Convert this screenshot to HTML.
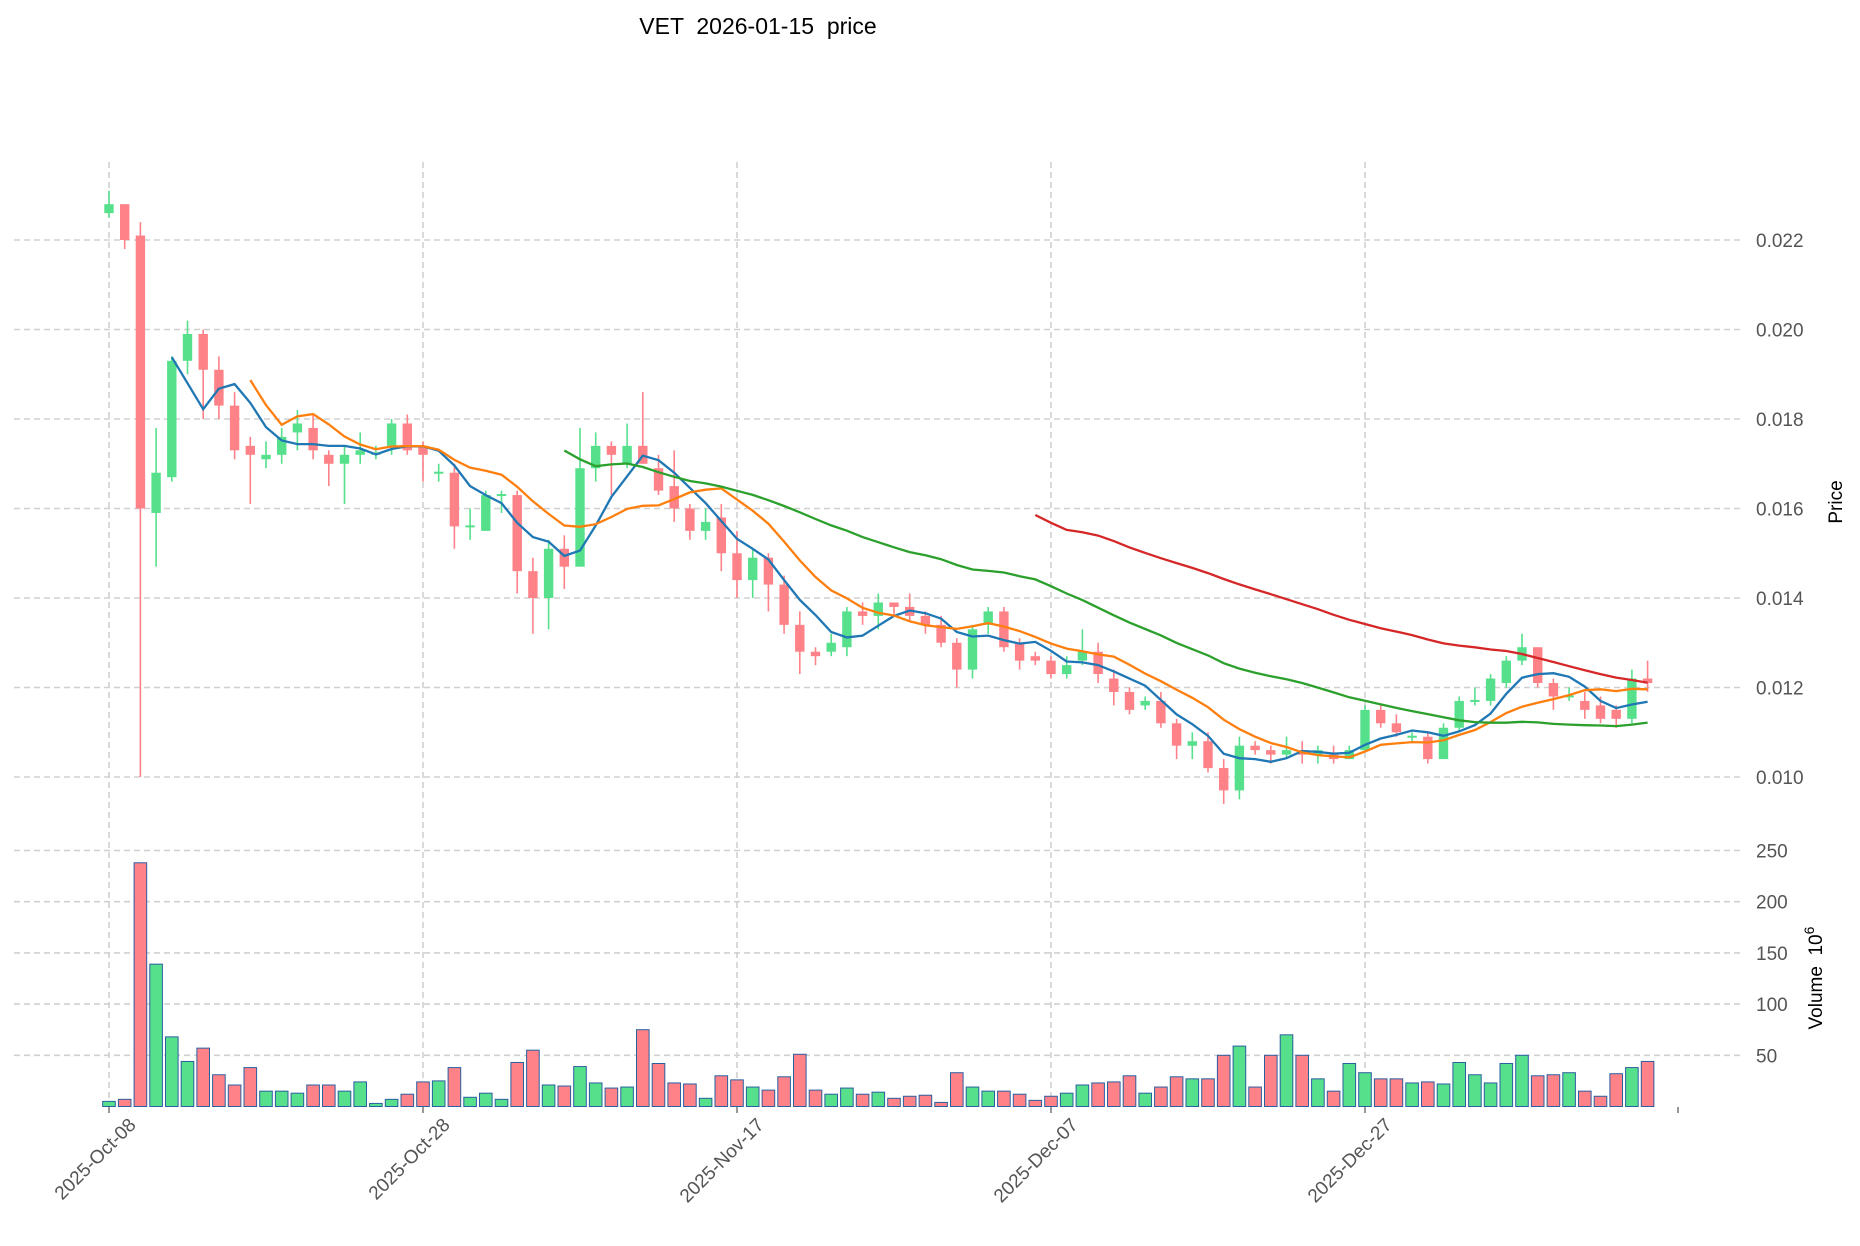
<!DOCTYPE html>
<html><head><meta charset="utf-8"><style>
html,body{margin:0;padding:0;background:#fff;}
svg{display:block;font-family:"Liberation Sans","DejaVu Sans",sans-serif;}
</style></head><body>
<svg id="c" width="1860" height="1246" xmlns="http://www.w3.org/2000/svg">
<text x="758" y="34" font-size="23" text-anchor="middle" fill="#000" style="white-space:pre">VET  2026-01-15  price</text>
<text transform="translate(1842,502) rotate(-90)" font-size="19" text-anchor="middle" fill="#000">Price</text>
<text transform="translate(1822,978) rotate(-90)" font-size="19" text-anchor="middle" fill="#000" style="white-space:pre">Volume  10<tspan dy="-8" font-size="14">6</tspan></text>
</svg>
<script>
var d=[[.0226,.0228,.0231,.0225],[.0228,.0220,.0228,.0218],[.0221,.0160,.0224,.0100],[.0159,.0168,.0178,.0147],[.0167,.0193,.0194,.0166],[.0193,.0199,.0202,.0190],[.0199,.0191,.0200,.0180],[.0191,.0183,.0194,.0180],[.0183,.0173,.0186,.0171],[.0174,.0172,.0176,.0161],[.0171,.0172,.0175,.0169],[.0172,.0176,.0178,.0170],[.0177,.0179,.0182,.0173],[.0178,.0173,.0181,.0171],[.0172,.0170,.0173,.0165],[.0170,.0172,.0174,.0161],[.0172,.0173,.0177,.0170],[.0172,.01725,.0174,.0171],[.0174,.0179,.0180,.0172],[.0179,.0173,.0181,.0172],[.0174,.0172,.0175,.0166],[.0168,.0168,.0170,.0166],[.0168,.0156,.0170,.0151],[.0156,.0156,.0160,.0153],[.0155,.0163,.0164,.0155],[.0163,.0163,.0164,.0159],[.0163,.0146,.0164,.0141],[.0146,.0140,.0149,.0132],[.0140,.0151,.0153,.0133],[.0151,.0147,.0154,.0142],[.0147,.0169,.0178,.0147],[.0169,.0174,.0177,.0166],[.0174,.0172,.0175,.0163],[.0170,.0174,.0179,.0169],[.0174,.0170,.0186,.0170],[.0169,.0164,.0172,.0163],[.0165,.0160,.0173,.0157],[.0160,.0155,.0161,.0153],[.0155,.0157,.0160,.0153],[.0158,.0150,.0161,.0146],[.0150,.0144,.0155,.0140],[.0144,.0149,.0151,.0140],[.0149,.0143,.0150,.0137],[.0143,.0134,.0145,.0132],[.0134,.0128,.0137,.0123],[.0128,.0127,.0129,.0125],[.0128,.0130,.0132,.0127],[.0129,.0137,.0138,.0127],[.0137,.0136,.0139,.0134],[.0136,.0139,.0141,.0133],[.0139,.0138,.0139,.0136],[.0138,.0136,.0141,.0135],[.0136,.0134,.0137,.0132],[.0134,.0130,.0136,.0129],[.0130,.0124,.0131,.0120],[.0124,.0133,.0134,.0122],[.0134,.0137,.0138,.0132],[.0137,.0129,.0138,.0128],[.0130,.0126,.0131,.0124],[.0127,.0126,.0128,.0125],[.0126,.0123,.0127,.0122],[.0123,.0125,.0127,.0122],[.0126,.0128,.0133,.0125],[.0128,.0123,.0130,.0121],[.0122,.0119,.0124,.0116],[.0119,.0115,.0120,.0114],[.0116,.0117,.0118,.0115],[.0117,.0112,.0119,.0111],[.0112,.0107,.0113,.0104],[.0107,.0108,.0110,.0104],[.0108,.0102,.0110,.0101],[.0102,.0097,.0104,.0094],[.0097,.0107,.0109,.0095],[.0107,.0106,.0108,.0105],[.0106,.0105,.0107,.0103],[.0105,.0106,.0109,.0104],[.0106,.0105,.0108,.0103],[.0105,.0106,.0107,.0103],[.0105,.0104,.0107,.0103],[.0104,.0106,.0107,.0104],[.0106,.0115,.0116,.0106],[.0115,.0112,.0116,.0111],[.0112,.0110,.0114,.0109],[.0109,.0109,.0110,.0108],[.0109,.0104,.0110,.0103],[.0104,.0111,.0112,.0104],[.0111,.0117,.0118,.0110],[.0117,.0117,.0120,.0116],[.0117,.0122,.0123,.0116],[.0121,.0126,.0127,.0120],[.0126,.0129,.0132,.0125],[.0129,.0121,.0129,.0120],[.0121,.0118,.0122,.0115],[.0118,.0118,.0120,.0117],[.0117,.0115,.0119,.0113],[.0116,.0113,.0118,.0112],[.0115,.0113,.0116,.0111],[.0113,.0122,.0124,.0112],[.0122,.0121,.0126,.0119]];
var v=[5,7,238,139,68,44,57,31,21,38,15,15,13,21,21,15,24,3,7,12,24,25,38,9,13,7,43,55,21,20,39,23,18,19,75,42,23,22,8,30,26,19,16,29,51,16,12,18,12,14,8,10,11,4,33,19,15,15,12,6,10,13,21,23,24,30,13,19,29,27,27,50,59,19,50,70,50,27,15,42,33,27,27,23,24,22,43,31,23,42,50,30,31,33,15,10,32,38,44];
var s='',X=function(i){return 109+15.7*i},Y=function(p){return 777-(p-0.01)*44750},VY=function(q){return 1106.5-q*1.024};
var G='#56e08c',R='#ff8289';
function gl(x1,y1,x2,y2){s+='<line x1="'+x1+'" y1="'+y1+'" x2="'+x2+'" y2="'+y2+'" stroke="#d0d0d0" stroke-width="1.6" stroke-dasharray="6,4"/>';}
var pt=[.010,.012,.014,.016,.018,.020,.022];
pt.forEach(function(p){var y=Y(p);gl(14,y,1743,y);s+='<text x="1756" y="'+(y+7)+'" font-size="19" fill="#555">'+p.toFixed(3)+'</text>';});
[50,100,150,200,250].forEach(function(q){var y=VY(q);gl(14,y,1743,y);s+='<text x="1756" y="'+(y+7)+'" font-size="19" fill="#555">'+q+'</text>';});
var lab=['2025-Oct-08','2025-Oct-28','2025-Nov-17','2025-Dec-07','2025-Dec-27'];
for(var k=0;k<5;k++){var x=X(20*k);gl(x,162,x,1107);s+='<line x1="'+x+'" y1="1107" x2="'+x+'" y2="1113" stroke="#555" stroke-width="1.2"/>';s+='<text transform="translate('+(x+28)+',1126) rotate(-45)" font-size="19" text-anchor="end" fill="#555">'+lab[k]+'</text>';}
s+='<line x1="1678" y1="1107" x2="1678" y2="1113" stroke="#555" stroke-width="1.2"/>';
d.forEach(function(c,i){var x=X(i),col=c[1]>=c[0]?G:R;var t=Y(Math.max(c[0],c[1])),b=Y(Math.min(c[0],c[1]));if(b-t<2){t-=1;b+=1;}
s+='<line x1="'+x+'" y1="'+Y(c[2])+'" x2="'+x+'" y2="'+Y(c[3])+'" stroke="'+col+'" stroke-width="1.6"/>';
s+='<rect x="'+(x-4.7)+'" y="'+t+'" width="9.4" height="'+(b-t)+'" fill="'+col+'"/>';
var vt=VY(v[i]);s+='<rect x="'+(x-6.3)+'" y="'+vt+'" width="12.6" height="'+(1106.5-vt)+'" fill="'+col+'" stroke="#2a5fa0" stroke-width="1"/>';});
function ma(n,col){var pts=[];for(var i=n-1;i<d.length;i++){var a=0;for(var j=i-n+1;j<=i;j++)a+=d[j][1];pts.push(X(i).toFixed(1)+','+Y(a/n).toFixed(1));}
s+='<polyline points="'+pts.join(' ')+'" fill="none" stroke="'+col+'" stroke-width="2.3"/>';}
ma(5,'#1f77b4');ma(10,'#ff7f0e');ma(30,'#2ca02c');ma(60,'#d62728');
document.getElementById('c').insertAdjacentHTML('beforeend',s);
</script>
</body></html>
